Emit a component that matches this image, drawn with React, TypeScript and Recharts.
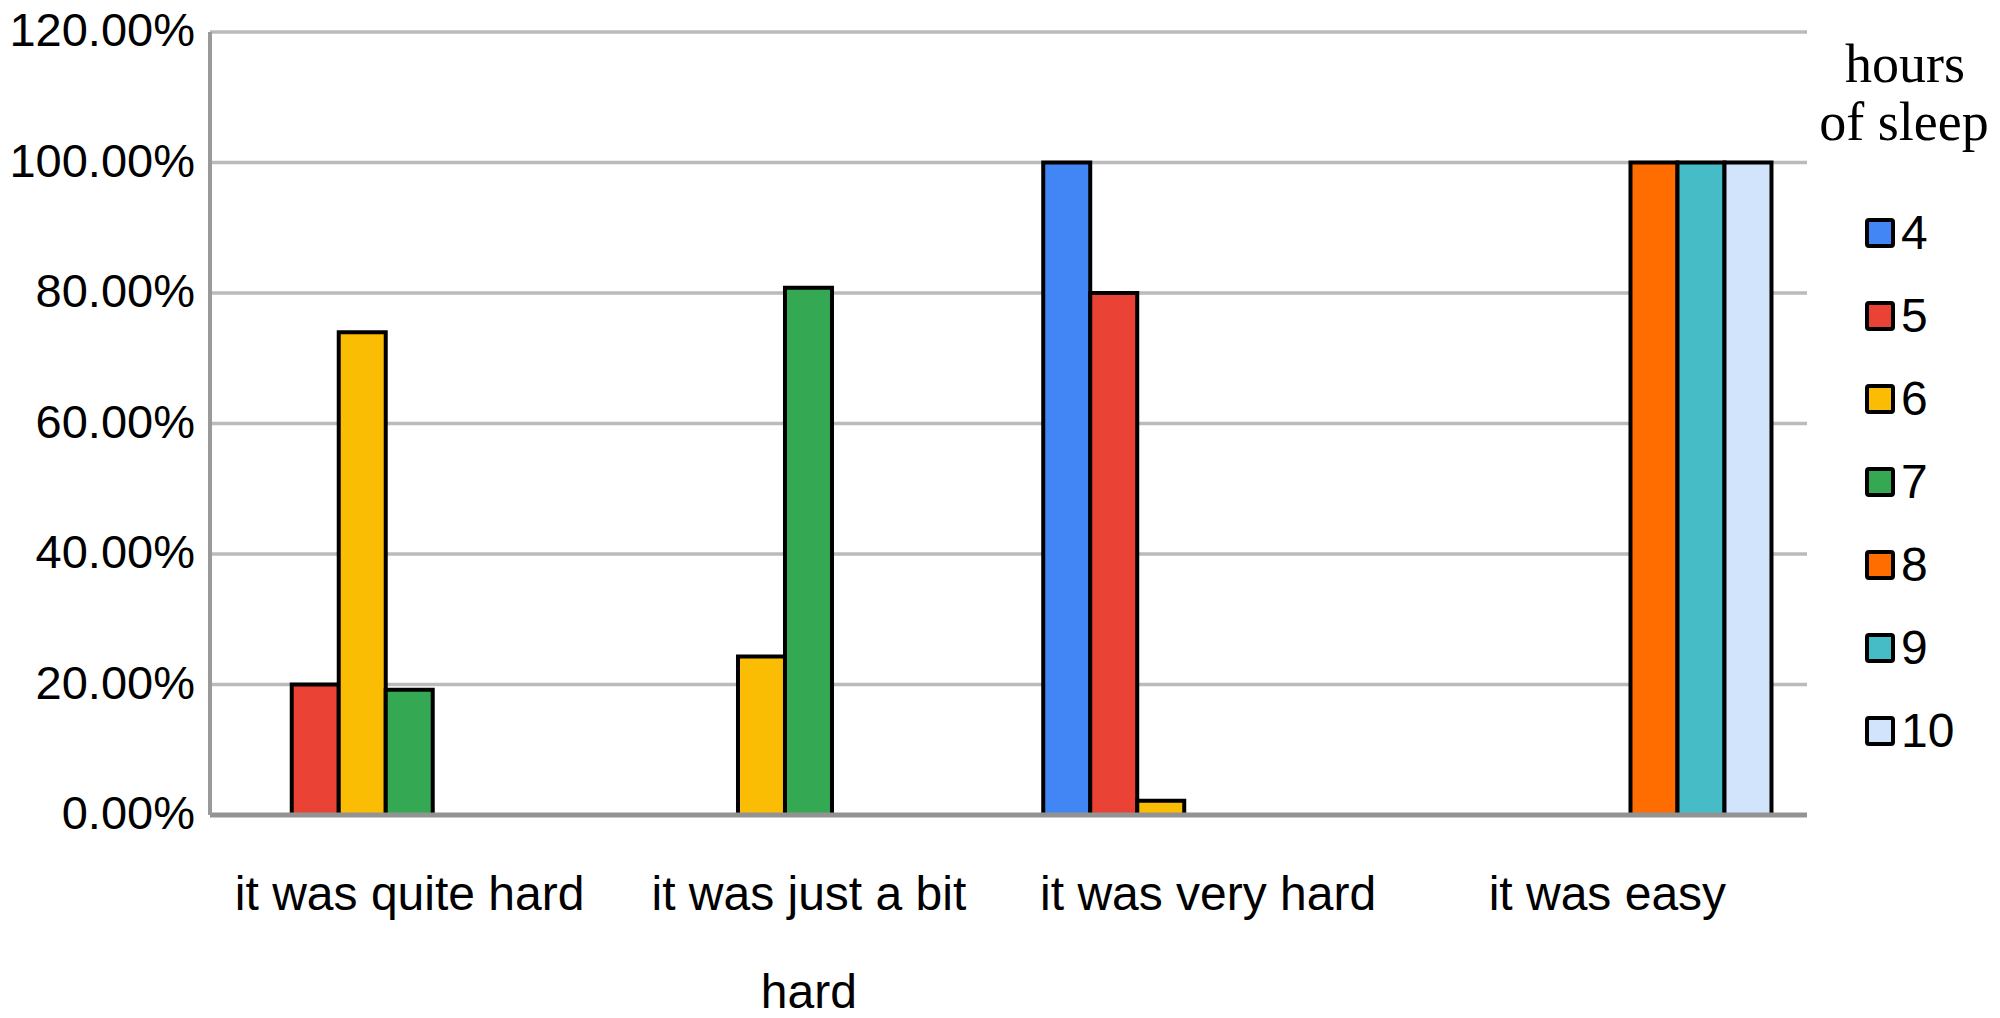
import React from "react";
import { BarChart, Bar, XAxis, YAxis, CartesianGrid, Legend } from "recharts";

const categories = ["it was quite hard", "it was just a bit hard", "it was very hard", "it was easy"];
const hours = ["4", "5", "6", "7", "8", "9", "10"];
const colors = ["#4285F4", "#EA4335", "#FBBC04", "#34A853", "#FF6D01", "#46BDC6", "#D2E3FC"];

// share of answers (%) per hours-of-sleep group, one entry per category
const h4 = [null, null, 100, null];
const h5 = [20, null, 80, null];
const h6 = [74, 24.3, 2.2, null];
const h7 = [19.2, 80.8, null, null];
const h8 = [null, null, null, 100];
const h9 = [null, null, null, 100];
const h10 = [null, null, null, 100];

const yTicks = [0, 20, 40, 60, 80, 100, 120];

const series = [h4, h5, h6, h7, h8, h9, h10];
const data = categories.map((name, i) => {
  const row: Record<string, string | number | null> = { name };
  hours.forEach((h, j) => {
    row["h" + h] = series[j][i];
  });
  return row;
});

const SANS = "'Liberation Sans', Arial, sans-serif";
const SERIF = "'Liberation Serif', 'Times New Roman', serif";

// greedy word wrap, the source chart breaks labels longer than ~17 chars
function wrap(label: string, max = 17) {
  const lines: string[] = [];
  let cur = "";
  for (const w of label.split(" ")) {
    const next = cur ? cur + " " + w : w;
    if (next.length > max && cur) {
      lines.push(cur);
      cur = w;
    } else {
      cur = next;
    }
  }
  if (cur) lines.push(cur);
  return lines;
}

function CategoryTick({ x, y, payload }: any) {
  const lines = wrap(String(payload.value));
  return (
    <text textAnchor="middle" fill="#000" fontSize={48} fontFamily={SANS}>
      {lines.map((l, i) => (
        <tspan key={i} x={x} y={y + 93 + i * 98}>
          {l}
        </tspan>
      ))}
    </text>
  );
}

function PercentTick({ x, y, payload }: any) {
  return (
    <text x={x} y={y + 14} textAnchor="end" fill="#000" fontSize={47} fontFamily={SANS}>
      {`${Number(payload.value).toFixed(2)}%`}
    </text>
  );
}

function SleepLegend() {
  return (
    <svg width={200} height={800}>
      <text x={105} y={82} textAnchor="middle" fontSize={54} fontFamily={SERIF} fill="#000">hours</text>
      <text x={104} y={140} textAnchor="middle" fontSize={54} fontFamily={SERIF} fill="#000">of sleep</text>
      {hours.map((h, i) => {
        const cy = 233 + i * 83;
        return (
          <g key={h}>
            <rect x={67} y={cy - 13} width={26} height={26} rx={2} fill={colors[i]} stroke="#000" strokeWidth={4} />
            <text x={101} y={cy + 16} fontSize={48} fontFamily={SANS} fill="#000">{h}</text>
          </g>
        );
      })}
    </svg>
  );
}

export default function App() {
  return (
    <div style={{ position: "absolute", left: 0, top: 0, background: "#fff" }}>
      <BarChart
        width={2000}
        height={1018}
        data={data}
        margin={{ top: 32, right: 193, bottom: 0, left: 0 }}
        barCategoryGap="8.7%"
        barGap={0}
      >
        <CartesianGrid vertical={false} stroke="#bbbbbb" strokeWidth={3.5} />
        <XAxis
          dataKey="name"
          height={203}
          interval={0}
          tickLine={false}
          tickSize={0}
          axisLine={{ stroke: "#939393", strokeWidth: 5 }}
          tick={<CategoryTick />}
        />
        <YAxis
          width={210}
          domain={[0, 120]}
          ticks={yTicks}
          interval={0}
          tickLine={false}
          tickSize={0}
          tickMargin={15}
          axisLine={{ stroke: "#9a9a9a", strokeWidth: 4 }}
          tick={<PercentTick />}
        />
        <Legend
          layout="horizontal"
          verticalAlign="middle"
          align="center"
          content={() => <SleepLegend />}
          wrapperStyle={{ position: "absolute", left: 1800, top: 0, width: 200, height: 800 }}
        />
        {hours.map((h, i) => (
          <Bar
            key={h}
            dataKey={"h" + h}
            name={h}
            fill={colors[i]}
            stroke="#000"
            strokeWidth={4}
            isAnimationActive={false}
          />
        ))}
      </BarChart>
    </div>
  );
}
